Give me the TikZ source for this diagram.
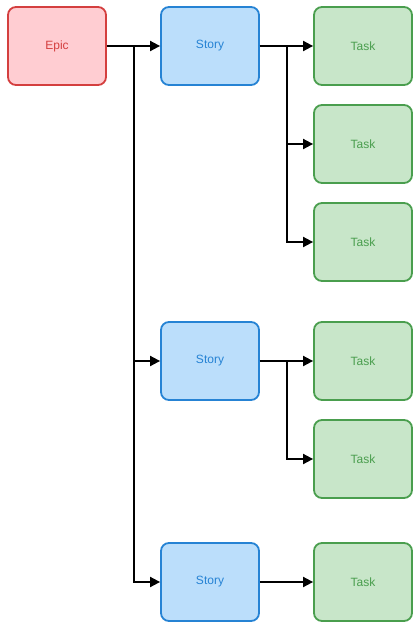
\documentclass[tikz,border=0pt]{standalone}
\usepackage{fontspec}
\setmainfont{Liberation Sans}
\usetikzlibrary{arrows.meta}
\definecolor{epicfill}{HTML}{FFCDD2}
\definecolor{epicline}{HTML}{D43F3F}
\definecolor{storyfill}{HTML}{BBDEFB}
\definecolor{storyline}{HTML}{2683D4}
\definecolor{taskfill}{HTML}{C8E6C9}
\definecolor{taskline}{HTML}{4A9E4E}
\tikzset{
  box/.style={rectangle, rounded corners=8pt, minimum width=98pt, minimum height=78pt, line width=1.8pt, inner sep=0pt, font=\fontsize{12}{14}\selectfont},
  epicbox/.style={box, draw=epicline, fill=epicfill, text=epicline},
  storybox/.style={box, draw=storyline, fill=storyfill, text=storyline},
  taskbox/.style={box, draw=taskline, fill=taskfill, text=taskline},
  conn/.style={line width=1.8pt, -{Triangle[length=10pt,width=10pt]}}
}
\begin{document}
\begin{tikzpicture}[x=1pt,y=-1pt]
\useasboundingbox (0,0) rectangle (419,629);
\node[epicbox] (epic) at (57,46) {Epic};
\node[storybox] (s1) at (210,46) {Story};
\node[storybox] (s2) at (210,361) {Story};
\node[storybox] (s3) at (210,582) {Story};
\node[taskbox] (t1) at (363,46) {Task};
\node[taskbox] (t2) at (363,144) {Task};
\node[taskbox] (t3) at (363,242) {Task};
\node[taskbox] (t4) at (363,361) {Task};
\node[taskbox] (t5) at (363,459) {Task};
\node[taskbox] (t6) at (363,582) {Task};
\draw[conn] (epic.east) -- (s1.west);
\draw[conn] (epic.east) -- ++(27,0) |- (s2.west);
\draw[conn] (epic.east) -- ++(27,0) |- (s3.west);
\draw[conn] (s1.east) -- (t1.west);
\draw[conn] (s1.east) -- ++(27,0) |- (t2.west);
\draw[conn] (s1.east) -- ++(27,0) |- (t3.west);
\draw[conn] (s2.east) -- (t4.west);
\draw[conn] (s2.east) -- ++(27,0) |- (t5.west);
\draw[conn] (s3.east) -- (t6.west);
\end{tikzpicture}
\end{document}
